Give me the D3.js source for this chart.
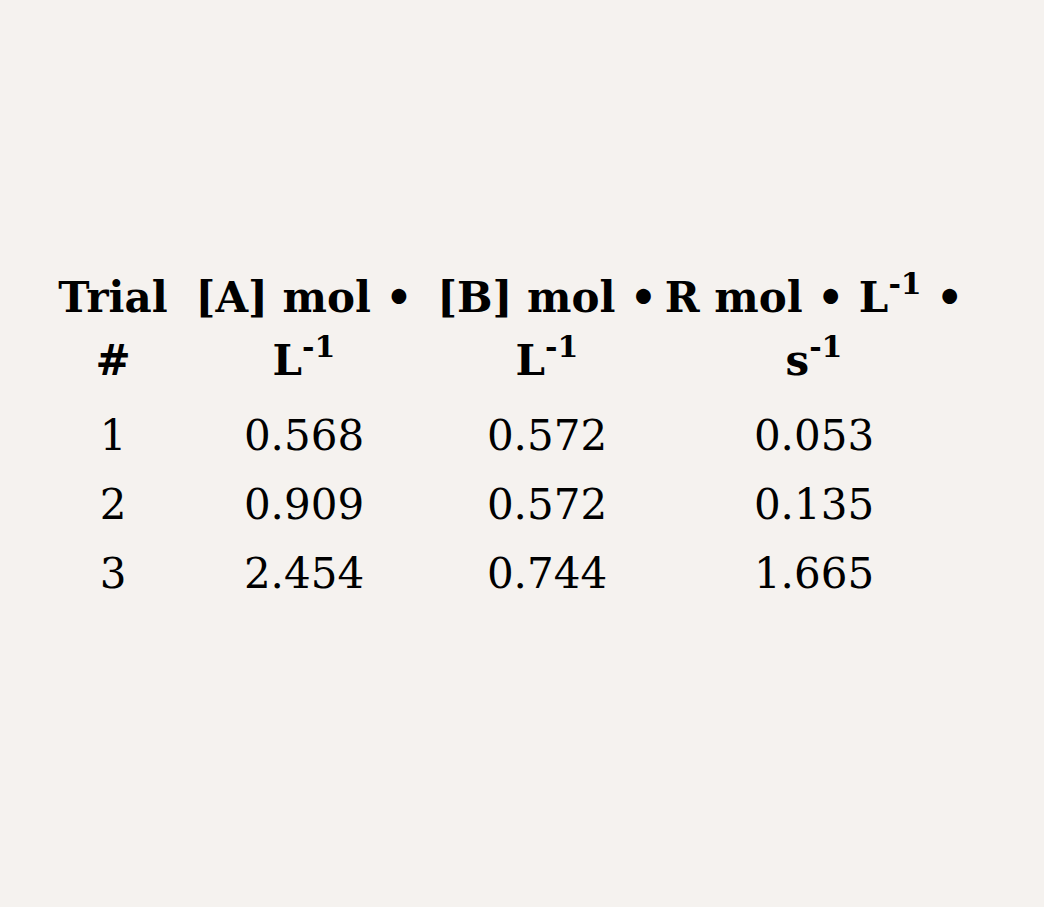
<!DOCTYPE html>
<html lang="en">
<head>
<meta charset="UTF-8">
<title>Rate table</title>
<script src="https://cdn.jsdelivr.net/npm/d3@7"></script>
<style>
  body { margin: 0; background: #f5f2ef; }
  text { font-family: "DejaVu Serif", serif; fill: #000; }
</style>
</head>
<body>
<div id="output"></div>
<script>
var trials = ["1", "2", "3"];
var concA = ["0.568", "0.909", "2.454"];
var concB = ["0.572", "0.572", "0.744"];
var rates = ["0.053", "0.135", "1.665"];

// header lines: each is a list of [text, isSuperscript]
var headers = [
  [[["Trial", false]], [["#", false]]],
  [[["[A] mol \u2022", false]], [["L", false], ["-1", true]]],
  [[["[B] mol \u2022", false]], [["L", false], ["-1", true]]],
  [[["R mol \u2022 L", false], ["-1", true], [" \u2022", false]], [["s", false], ["-1", true]]]
];

var w = 1044, h = 907;
var svg = d3.select("#output").append("svg")
    .attr("width", w).attr("height", h);

var colX = d3.scaleOrdinal().domain([0, 1, 2, 3]).range([113, 304, 547, 814]);
var rowY = d3.scaleLinear().domain([0, 2]).range([450, 588]);

var columns = [trials, concA, concB, rates];

headers.forEach(function(lines, c) {
  lines.forEach(function(parts, li) {
    var t = svg.append("text")
        .attr("x", colX(c))
        .attr("y", li === 0 ? 312 : 375)
        .attr("text-anchor", "middle")
        .attr("font-weight", "bold")
        .attr("font-size", 42);
    parts.forEach(function(p) {
      var s = t.append("tspan").text(p[0]);
      if (p[1]) s.attr("font-size", 30).attr("dy", -18);
      else if (t.selectAll("tspan").size() > 1) s.attr("dy", 18);
    });
  });
});

columns.forEach(function(vals, c) {
  svg.selectAll(null).data(vals).enter().append("text")
      .attr("x", colX(c))
      .attr("y", function(d, i) { return rowY(i); })
      .attr("text-anchor", "middle")
      .attr("font-size", 42)
      .text(function(d) { return d; });
});
</script>
</body>
</html>
